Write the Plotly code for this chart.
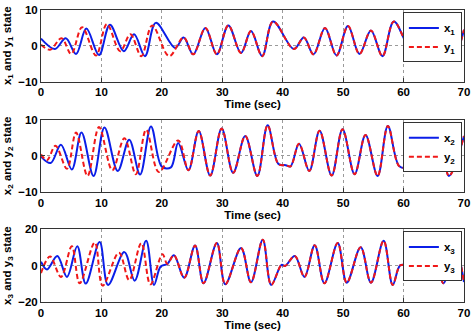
import plotly.graph_objects as go
from plotly.subplots import make_subplots

# ---- Panel 1: x1 (solid) and y1 (dashed), extrema ----
t_x1 = [0, 2.3, 4.1, 5.8, 7.5, 9.6, 11.4, 13.7, 15.4, 17.2, 19.0, 22.2, 23.6, 25.2, 27.2, 29.1,
        31.0, 33.1, 34.75, 36.6, 38.4, 41.85, 43.5, 45.1, 47.0, 48.9, 50.8, 52.7, 54.6, 56.5,
        58.4, 61.2, 62.8, 64.6, 66.5, 68.4, 70]
v_x1 = [2.0, -0.9, 2.1, -2.3, 4.8, -2.6, 5.9, -1.5, 3.2, -2.9, 6.4, -0.6, 2.3, -2.4, 5.0, -2.4,
        5.7, -2.0, 4.1, -2.9, 6.8, -0.9, 2.3, -2.4, 5.0, -2.7, 5.5, -2.3, 4.3, -2.9,
        6.8, -0.9, 3.0, -2.3, 5.0, -2.6, 4.5]
t_y1 = [0, 1.5, 3.4, 5.0, 6.8, 9.1, 10.9, 13.1, 14.8, 16.6, 18.4, 21.2] + t_x1[12:]
v_y1 = [0.3, -1.1, 2.1, -2.3, 5.2, -2.7, 6.1, -1.5, 3.2, -2.9, 5.7, -2.9] + v_x1[12:]

# ---- Panel 2 ----
t_x2 = [0, 1.6, 3.3, 5.1, 6.7, 8.7, 10.5, 12.7, 14.6, 16.4, 18.2, 20.0, 21.5, 22.7, 24.4, 26.1,
        28.0, 29.9, 31.8, 33.8, 35.8, 37.5, 39.3, 40.5, 41.3, 42.7, 44.4, 46.1, 48.1, 49.9,
        51.9, 53.7, 55.7, 57.4, 59.3, 60.8, 62.4, 64.1, 66.0, 67.5, 70]
v_x2 = [-0.2, -2.0, 3.1, -3.8, 6.5, -5.6, 7.9, -4.2, 4.5, -5.2, 8.2, -3.0, -3.2, 3.6, -4.0, 6.9,
        -5.5, 7.6, -4.7, 5.5, -5.6, 8.5, -2.3, -2.6, -2.9, 3.4, -4.2, 7.0, -5.5, 7.4,
        -5.1, 5.8, -5.6, 8.3, -2.9, -3.0, 3.1, -3.8, 6.5, -5.6, 5.5]
t_y2 = [0, 1.0, 2.4, 4.3, 5.8, 7.7, 9.6, 11.8, 13.8, 15.7, 17.4, 19.5, 22.7] + t_x2[14:]
v_y2 = [0.4, -1.2, 2.8, -3.6, 6.5, -5.6, 8.0, -4.0, 4.9, -5.1, 7.3, -4.5, 4.3] + v_x2[14:]

# ---- Panel 3 ----
t_x3 = [0, 1.0, 2.7, 4.3, 6.0, 7.4, 9.7, 11.1, 13.8, 15.5, 17.4, 18.7, 19.8, 20.9, 22.0, 23.7,
        25.5, 26.9, 29.1, 30.5, 33.1, 34.75, 36.7, 38.1, 39.8, 40.4, 42.0, 43.6, 45.3, 46.9,
        49.1, 50.6, 52.9, 54.6, 56.7, 58.2, 59.4, 60.5, 61.6, 63.3, 65.0, 66.6, 68.5, 70]
v_x3 = [2.1, -2.1, 5.3, -6.2, 10.6, -9.9, 12.9, -10.6, 7.4, -8.3, 13.6, -10.6, -0.5, 0.9, 5.7, -6.7,
        11.0, -9.7, 12.4, -10.3, 9.7, -9.2, 14.2, -10.6, 0.4, -0.2, 5.3, -6.2, 11.2, -9.7,
        12.4, -9.4, 10.1, -9.4, 13.6, -10.6, 0.0, 0.9, 5.7, -6.2, 9.0, -9.7, 10.0, -9.0]
t_y3 = [0, 1.5, 3.3, 5.1, 6.4, 8.9, 10.2, 12.9, 14.6, 16.6, 18.1, 20.1, 20.9] + t_x3[14:]
v_y3 = [-4.1, 5.0, -6.2, 10.6, -9.7, 12.7, -11.0, 7.1, -8.0, 12.4, -10.3, 6.2, 1.0] + v_x3[14:]

y_ranges = [[-10, 10], [-10, 10], [-20, 20]]
y_ticks = [[-10, 0, 10], [-10, 0, 10], [-20, 0, 20]]
x_ticks = [0, 10, 20, 30, 40, 50, 60, 70]

BLUE = "#0b1ee8"
RED = "#f01818"
FONT = "Liberation Sans, Arial, sans-serif"
FS = 11.5

W, H = 474, 333
ml, mr, mt, mb = 41, 7, 4, 27
ph = H - mt - mb
def py(pix):
    return (H - mb - pix) / ph

domains = [[py(78), py(4)], [py(192), py(117.7)], [py(306), py(230.7)]]

fig = make_subplots(rows=3, cols=1)

series = [(t_x1, v_x1, t_y1, v_y1), (t_x2, v_x2, t_y2, v_y2), (t_x3, v_x3, t_y3, v_y3)]
legends = ["legend", "legend2", "legend3"]
for i, (tx, vx, ty, vy) in enumerate(series):
    k = i + 1
    fig.add_trace(go.Scatter(x=tx, y=vx, mode="lines", name=f"x<sub>{k}</sub>",
                             line=dict(color=BLUE, width=2, shape="spline", smoothing=1.0),
                             legend=legends[i]), row=k, col=1)
    fig.add_trace(go.Scatter(x=ty, y=vy, mode="lines", name=f"y<sub>{k}</sub>",
                             line=dict(color=RED, width=2, dash="5px,3px", shape="spline", smoothing=1.0),
                             legend=legends[i]), row=k, col=1)

axis_common = dict(showline=True, mirror=True, linecolor="#333333", linewidth=1,
                   ticks="inside", ticklen=4, tickcolor="#333333",
                   showgrid=True, gridcolor="#9a9a9a", griddash="dot", gridwidth=1,
                   zeroline=False,
                   tickfont=dict(family=FONT, size=FS, color="black", weight="bold"))

for i in range(3):
    k = i + 1
    xa = "xaxis" if k == 1 else f"xaxis{k}"
    ya = "yaxis" if k == 1 else f"yaxis{k}"
    fig.layout[xa].update(range=[0, 70], tickvals=x_ticks, **axis_common,
                          title=dict(text="Time (sec)", standoff=2,
                                     font=dict(family=FONT, size=FS, color="black", weight="bold")))
    fig.layout[ya].update(range=y_ranges[i], tickvals=y_ticks[i], domain=domains[i], **axis_common,
                          title=dict(text=f"x<sub>{k}</sub> and y<sub>{k}</sub> state", standoff=4,
                                     font=dict(family=FONT, size=FS, color="black", weight="bold")))

leg_tops = [6.5, 120, 233]
leg_common = dict(xanchor="right", yanchor="top", x=0.995, bgcolor="white",
                  bordercolor="#333333", borderwidth=1, itemwidth=30, tracegroupgap=0,
                  font=dict(family=FONT, size=FS, color="black", weight="bold"))
fig.update_layout(
    legend=dict(y=py(leg_tops[0]), **leg_common),
    legend2=dict(y=py(leg_tops[1]), **leg_common),
    legend3=dict(y=py(leg_tops[2]), **leg_common),
)

fig.update_layout(width=W, height=H, margin=dict(l=ml, r=mr, t=mt, b=mb),
                  plot_bgcolor="white", paper_bgcolor="white", showlegend=True)

fig.write_html("out.html")
